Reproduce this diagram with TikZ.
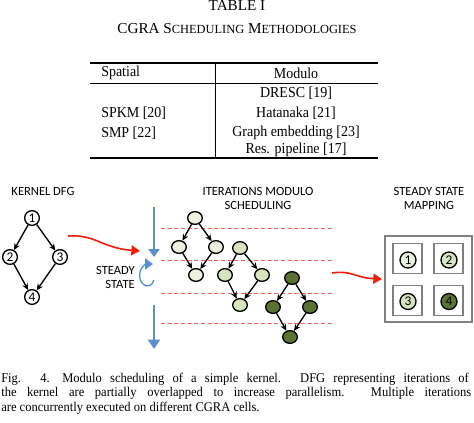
\documentclass[tikz,border=0pt]{standalone}
\usepackage{graphicx}
\usepackage{fontspec}
\setmainfont{Liberation Serif}
\newfontfamily\diagfont{Carlito}
\usetikzlibrary{arrows.meta,shapes.geometric}
\definecolor{iterone}{HTML}{EBF1DE}
\definecolor{itertwo}{HTML}{D7E4BD}
\definecolor{iterthree}{HTML}{5B7332}
\definecolor{flowred}{HTML}{F01E0A}
\definecolor{timeblue}{HTML}{5B8FD0}
\newcommand{\tabnarrow}[1]{\scalebox{0.92}[1]{#1}}
\newcommand{\capnarrow}[1]{\scalebox{0.94}[1]{#1}}

\begin{document}
\begin{tikzpicture}[x=0.75pt,y=0.75pt,yscale=-1,xscale=1,
  tabtxt/.style={inner sep=0.75pt,font=\fontsize{11.4}{13}\selectfont},
  captxt/.style={anchor=west,inner sep=0pt,font=\fontsize{10}{11}\selectfont},
  headtxt/.style={inner sep=0.75pt,align=center,font=\diagfont\fontsize{9.4}{9.8}\selectfont},
  kernode/.style={circle,draw,line width=1pt,fill=white,minimum size=11pt,inner sep=0pt,font=\diagfont\fontsize{10}{10}\selectfont},
  itnode/.style={ellipse,draw,line width=1pt,minimum width=11pt,minimum height=9.5pt,inner sep=0pt,fill=#1},
  mapnode/.style={circle,draw,line width=1pt,minimum size=12pt,inner sep=0pt,fill=#1,font=\diagfont\fontsize{10}{10}\selectfont},
  cellbox/.style={draw=gray,line width=0.8pt,minimum width=21.75pt,minimum height=22.5pt,inner sep=0pt},
  dep/.style={line width=1pt,-{Stealth[length=5pt,width=4.5pt]}},
  redflow/.style={flowred,line width=1.2pt,-{Triangle[length=6.5pt,width=7.5pt]}},
  timeline/.style={timeblue,line width=1pt,-{Triangle[length=6pt,width=8.5pt]}},
  slot/.style={flowred!70,line width=0.5pt,densely dashed}]
\useasboundingbox (0,0) rectangle (474,422);

% table
\draw (237,6) node (tabno) [tabtxt] {TABLE I};
\draw (237,29) node (tabname) [tabtxt] {CGRA S{\fontsize{9.3}{11}\selectfont CHEDULING} M{\fontsize{9.3}{11}\selectfont ETHODOLOGIES}};
\draw [line width=0.9pt] (90,63) -- (378,63);
\draw [line width=0.6pt] (90,83) -- (378,83);
\draw [line width=0.9pt] (90,158) -- (378,158);
\draw [line width=0.6pt] (215,63) -- (215,158);
\draw (100,73) node (hspatial) [tabtxt,anchor=west] {\tabnarrow{Spatial}};
\draw (296,73) node (hmodulo) [tabtxt] {\tabnarrow{Modulo}};
\draw (296,93) node (dresc) [tabtxt] {\tabnarrow{DRESC [19]}};
\draw (100,113) node (spkm) [tabtxt,anchor=west] {\tabnarrow{SPKM [20]}};
\draw (296,113) node (hatanaka) [tabtxt] {\tabnarrow{Hatanaka [21]}};
\draw (100,133) node (smp) [tabtxt,anchor=west] {\tabnarrow{SMP [22]}};
\draw (296,133) node (graphemb) [tabtxt] {\tabnarrow{Graph embedding [23]}};
\draw (296,150) node (respipe) [tabtxt] {\tabnarrow{Res. pipeline [17]}};

% kernel DFG
\draw (43,191) node (ttlkernel) [headtxt] {KERNEL DFG};
\draw (32,218) node (k1) [kernode] {1};
\draw (10,257) node (k2) [kernode] {2};
\draw (60,257) node (k3) [kernode] {3};
\draw (32,297) node (k4) [kernode] {4};
\draw [dep] (k1) -- (k2);
\draw [dep] (k1) -- (k3);
\draw [dep] (k2) -- (k4);
\draw [dep] (k3) -- (k4);

% modulo schedule
\draw (258,198.5) node (ttlsched) [headtxt] {ITERATIONS MODULO\\SCHEDULING};
\draw [slot] (161,228) -- (332,228);
\draw [slot] (161,260) -- (332,260);
\draw [slot] (161,293) -- (332,293);
\draw [slot] (161,323) -- (332,323);
\draw (195,218) node (i1t) [itnode=iterone] {};
\draw (179,247) node (i1l) [itnode=iterone] {};
\draw (216,247) node (i1r) [itnode=iterone] {};
\draw (196,275) node (i1b) [itnode=iterone] {};
\draw (240,248) node (i2t) [itnode=itertwo] {};
\draw (225,275) node (i2l) [itnode=itertwo] {};
\draw (262,275) node (i2r) [itnode=itertwo] {};
\draw (240,305) node (i2b) [itnode=itertwo] {};
\draw (292,278) node (i3t) [itnode=iterthree] {};
\draw (273,307) node (i3l) [itnode=iterthree] {};
\draw (310,307) node (i3r) [itnode=iterthree] {};
\draw (290,337) node (i3b) [itnode=iterthree] {};
\draw [dep] (i1t) -- (i1l);
\draw [dep] (i1t) -- (i1r);
\draw [dep] (i1l) -- (i1b);
\draw [dep] (i1r) -- (i1b);
\draw [dep] (i2t) -- (i2l);
\draw [dep] (i2t) -- (i2r);
\draw [dep] (i2l) -- (i2b);
\draw [dep] (i2r) -- (i2b);
\draw [dep] (i3t) -- (i3l);
\draw [dep] (i3t) -- (i3r);
\draw [dep] (i3l) -- (i3b);
\draw [dep] (i3r) -- (i3b);

% time axis
\coordinate (tstart) at (154,207);
\coordinate (tprolog) at (154,257);
\coordinate (tepilog) at (154,305);
\coordinate (tend) at (154,349);
\draw [timeline] (tstart) -- (tprolog);
\draw [timeline] (154,280) .. controls (150,292) and (137,284) .. (140,272) .. controls (142,265) and (147,264) .. (153,264);
\draw [timeblue,line width=1pt,-{Triangle[length=7pt,width=9pt]}] (tepilog) -- (tend);
\draw (136,277.5) node (steady) [headtxt,anchor=east,align=right] {STEADY\\STATE};

% steady state mapping
\draw (429,198.5) node (ttlmap) [headtxt] {STEADY STATE\\MAPPING};
\draw (428.5,279) node (grid) [draw=gray,line width=0.8pt,minimum width=65.25pt,minimum height=64.5pt,inner sep=0pt] {};
\draw (407.5,258.5) node (cell1) [cellbox] {};
\draw (448.5,258.5) node (cell2) [cellbox] {};
\draw (407.5,300.5) node (cell3) [cellbox] {};
\draw (448.5,300.5) node (cell4) [cellbox] {};
\draw (408,260) node (m1) [mapnode=iterone] {1};
\draw (449,260) node (m2) [mapnode=itertwo] {2};
\draw (408,301.5) node (m3) [mapnode=itertwo] {3};
\draw (449,301.5) node (m4) [mapnode=iterthree] {4};

% red flow arrows
\coordinate (kout) at (68,236);
\coordinate (sin) at (140,251);
\coordinate (sout) at (332,273);
\coordinate (min) at (382,279);
\draw [redflow] (kout) .. controls (95,234) and (102,248) .. (sin);
\draw [redflow] (sout) .. controls (352,270) and (356,278) .. (min);

% caption
\draw (1,379) node (cap1) [captxt] {\capnarrow{\makebox[373pt][s]{Fig. 4.\hspace{10pt}Modulo scheduling of a simple kernel. DFG representing iterations of}}};
\draw (1,393.5) node (cap2) [captxt] {\capnarrow{\makebox[375pt][s]{the kernel are partially overlapped to increase parallelism. Multiple iterations}}};
\draw (1,408) node (cap3) [captxt] {\capnarrow{are concurrently executed on different CGRA cells.}};
\end{tikzpicture}
\end{document}
